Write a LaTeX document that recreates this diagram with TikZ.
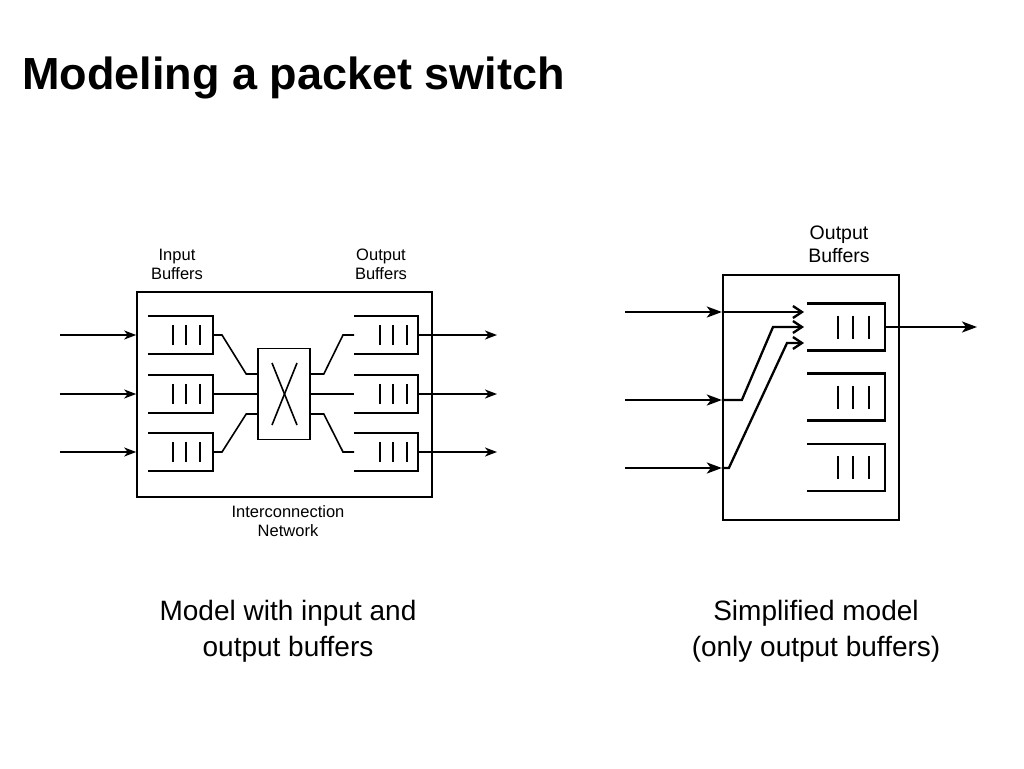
\documentclass[tikz,border=0pt]{standalone}
\usepackage{fontspec}
\setmainfont{Liberation Sans}
\usetikzlibrary{arrows.meta}
\begin{document}
\begin{tikzpicture}[x=1pt,y=-1pt,
  lline/.style={line width=1.6pt},
  rline/.style={line width=2.3pt},
  lbuf/.style={minimum width=65pt,minimum height=38pt,inner sep=0pt,outer sep=0pt},
  rbuf/.style={minimum width=78pt,minimum height=47pt,inner sep=0pt,outer sep=0pt},
  larr/.style={lline,-{Stealth[length=12pt,width=9pt,inset=3.5pt]}},
  rarr/.style={rline,-{Stealth[length=15pt,width=11pt,inset=4pt]}},
  barb/.style={rline,-{Straight Barb[length=9pt,width=12pt]}},
  slbl/.style={align=center,font=\fontsize{16.5}{19}\selectfont},
  rlbl/.style={align=center,font=\fontsize{19.5}{23}\selectfont},
  captext/.style={align=center,font=\fontsize{28}{36}\selectfont},
]
\useasboundingbox (0,0) rectangle (1024,768);

% title
\node[anchor=base west,inner sep=0pt,font=\fontsize{45}{54}\selectfont\bfseries] (title) at (22,89) {Modeling a packet switch};

% ---------- left diagram ----------
\node[draw,lline,minimum width=295pt,minimum height=205pt,inner sep=0pt] (net) at (284.5,394.5) {};
\node[lbuf] (ib1) at (180.5,335) {};
\node[lbuf] (ib2) at (180.5,394) {};
\node[lbuf] (ib3) at (180.5,452) {};
\node[lbuf,minimum width=64pt] (ob1) at (386,335) {};
\node[lbuf,minimum width=64pt] (ob2) at (386,394) {};
\node[lbuf,minimum width=64pt] (ob3) at (386,452) {};
\node[draw,lline,minimum width=52pt,minimum height=91pt,inner sep=0pt] (sw) at (284,394) {};

\foreach \n in {ib1,ib2,ib3} {
  \draw[lline] (\n.north west) -- (\n.north east) -- (\n.south east) -- (\n.south west);
  \foreach \dx in {-7.5,5.5,19.5}
    \draw[lline] ([shift={(\dx,-10)}]\n.center) -- ([shift={(\dx,10)}]\n.center);
}
\foreach \n in {ob1,ob2,ob3} {
  \draw[lline] (\n.north west) -- (\n.north east) -- (\n.south east) -- (\n.south west);
  \foreach \dx in {-6,7,21}
    \draw[lline] ([shift={(\dx,-10)}]\n.center) -- ([shift={(\dx,10)}]\n.center);
}
\draw[lline] ([shift={(-12,-31)}]sw.center) -- ([shift={(13,31)}]sw.center);
\draw[lline] ([shift={(13,-31)}]sw.center) -- ([shift={(-12,31)}]sw.center);

\coordinate (in1) at (60,335);
\coordinate (in2) at (60,394);
\coordinate (in3) at (60,452);
\coordinate (out1) at (497,335);
\coordinate (out2) at (497,394);
\coordinate (out3) at (497,452);
\draw[larr] (in1) -- (in1 -| net.west);
\draw[larr] (in2) -- (in2 -| net.west);
\draw[larr] (in3) -- (in3 -| net.west);
\draw[larr] (ob1.east) -- (out1);
\draw[larr] (ob2.east) -- (out2);
\draw[larr] (ob3.east) -- (out3);

\draw[lline] (ib1.east) -- ++(9,0) -- ([shift={(-11,-20)}]sw.west) -- ([shift={(0,-20)}]sw.west);
\draw[lline] (ib2.east) -- (sw.west);
\draw[lline] (ib3.east) -- ++(9,0) -- ([shift={(-11,20)}]sw.west) -- ([shift={(0,20)}]sw.west);
\draw[lline] ([shift={(0,-20)}]sw.east) -- ++(13,0) -- ([shift={(-11,0)}]ob1.west) -- (ob1.west);
\draw[lline] (sw.east) -- (ob2.west);
\draw[lline] ([shift={(0,20)}]sw.east) -- ++(13,0) -- ([shift={(-11,0)}]ob3.west) -- (ob3.west);

\node[slbl] (inlbl) at (177,264.5) {Input\\Buffers};
\node[slbl] (outlbl) at (381,264.5) {Output\\Buffers};
\node[slbl] (netlbl) at (288,521) {Interconnection\\Network};

% ---------- right diagram ----------
\node[draw,rline,minimum width=176pt,minimum height=245pt,inner sep=0pt] (rnet) at (811,397.5) {};
\node[rbuf] (rb1) at (846,327) {};
\node[rbuf] (rb2) at (846,397) {};
\node[rbuf] (rb3) at (846,467.5) {};
\foreach \n in {rb1,rb2,rb3} {
  \draw[rline] (\n.north west) -- (\n.north east) -- (\n.south east) -- (\n.south west);
  \foreach \dx in {-8,7,23}
    \draw[rline] ([shift={(\dx,-11.5)}]\n.center) -- ([shift={(\dx,11.5)}]\n.center);
}
\coordinate (rin1) at (625,312);
\coordinate (rin2) at (625,400);
\coordinate (rin3) at (625,468);
\coordinate (rout) at (977,327);
\draw[rarr] (rin1) -- (rin1 -| rnet.west);
\draw[rarr] (rin2) -- (rin2 -| rnet.west);
\draw[rarr] (rin3) -- (rin3 -| rnet.west);
\draw[rarr] (rb1.east) -- (rout);

\draw[barb] (rin1 -| rnet.west) -- ([shift={(-3,-15)}]rb1.west);
\draw[barb] (rin2 -| rnet.west) -- ++(20,0) -- ([shift={(-34,0)}]rb1.west) -- ([shift={(-3,0)}]rb1.west);
\draw[barb] (rin3 -| rnet.west) -- ++(7,0) -- ([shift={(-20,16)}]rb1.west) -- ([shift={(-3,16)}]rb1.west);

\node[rlbl] (routlbl) at (839,244.5) {Output\\Buffers};

% captions
\node[captext] (cap1) at (288,631) {Model with input and\\output buffers};
\node[captext] (cap2) at (816,631) {Simplified model\\(only output buffers)};
\end{tikzpicture}
\end{document}
